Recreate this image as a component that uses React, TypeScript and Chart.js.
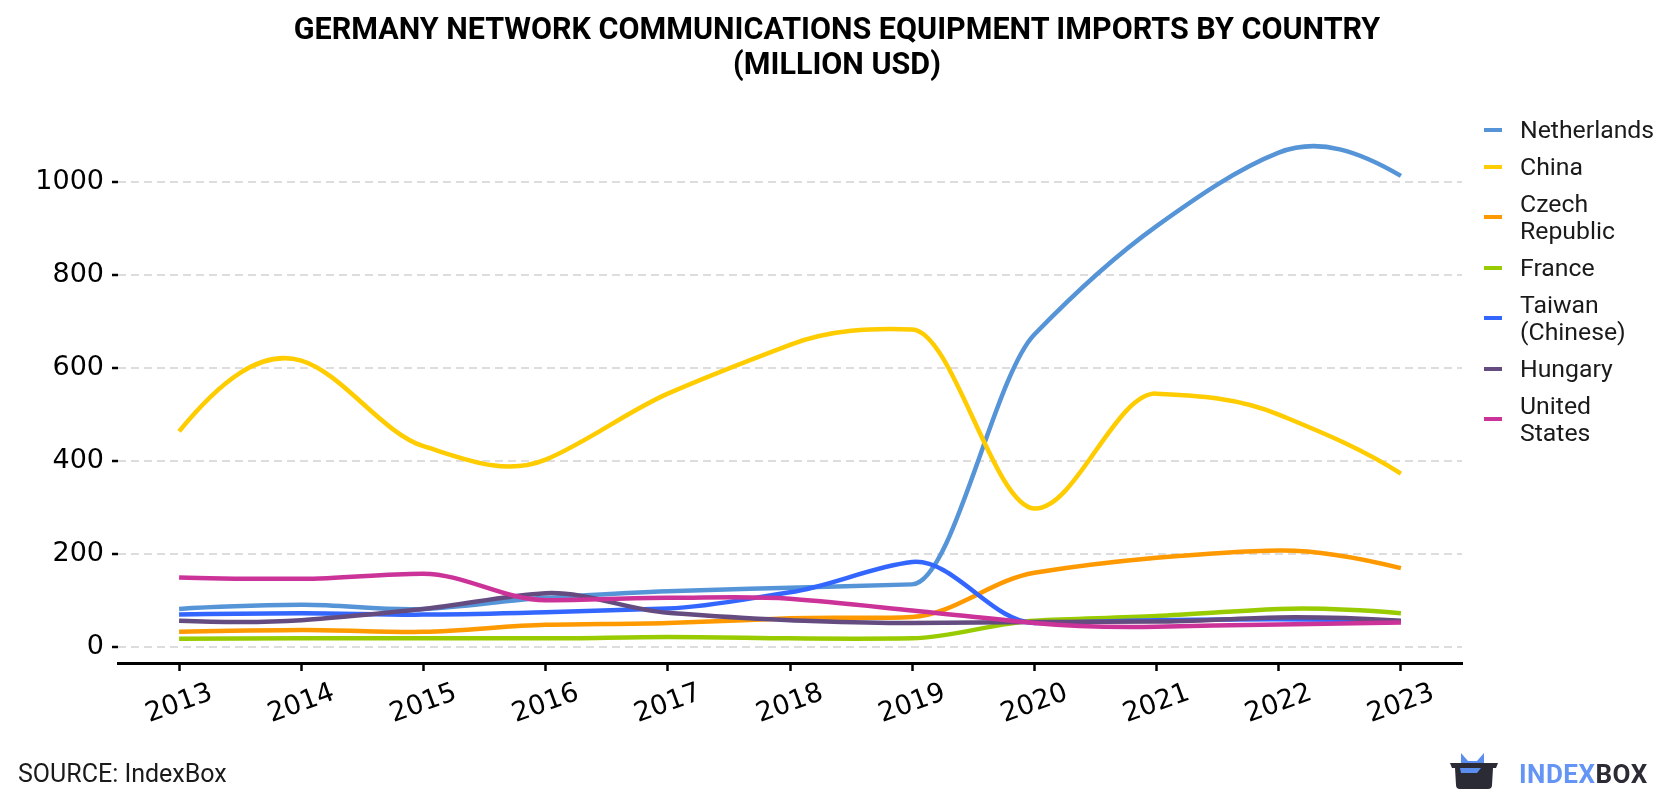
import React, { useEffect, useRef } from 'react';
import { Chart, registerables } from 'chart.js';

Chart.register(...registerables);

const YEARS = [2013, 2014, 2015, 2016, 2017, 2018, 2019, 2020, 2021, 2022, 2023];
const NETHERLANDS = [82, 91, 82, 106, 120, 128, 135, 672, 905, 1063, 1013];
const CHINA = [464, 616, 432, 403, 545, 650, 683, 298, 545, 500, 373];
const CZECH_REPUBLIC = [33, 37, 33, 48, 52, 62, 65, 160, 192, 208, 170];
const FRANCE = [18, 19, 19, 19, 22, 19, 19, 57, 67, 82, 73];
const TAIWAN = [70, 73, 70, 75, 83, 118, 183, 52, 58, 60, 56];
const HUNGARY = [57, 58, 82, 116, 74, 58, 52, 54, 55, 64, 57];
const UNITED_STATES = [150, 147, 158, 101, 106, 104, 79, 52, 44, 49, 53];
const Y_TICKS = [0, 200, 400, 600, 800, 1000];

const SERIES_NAMES = ['Netherlands', 'China', 'Czech Republic', 'France', 'Taiwan (Chinese)', 'Hungary', 'United States'];
const LEGEND_LINES = [['Netherlands'], ['China'], ['Czech', 'Republic'], ['France'], ['Taiwan', '(Chinese)'], ['Hungary'], ['United', 'States']];
const SERIES_VALUES = [NETHERLANDS, CHINA, CZECH_REPUBLIC, FRANCE, TAIWAN, HUNGARY, UNITED_STATES];
const COLORS = ['#5694D8', '#FFCC00', '#FF9900', '#99CC00', '#3366FF', '#654C80', '#CC3399'];

const TITLE_1 = 'GERMANY NETWORK COMMUNICATIONS EQUIPMENT IMPORTS BY COUNTRY';
const TITLE_2 = '(MILLION USD)';

// Akima-style curve: override bezier control points of every line
const akimaPlugin = {
  id: 'akimaCurve',
  beforeDatasetsDraw(chart: any) {
    chart.getSortedVisibleDatasetMetas().forEach((meta: any) => {
      const line = meta.dataset;
      if (!line) return;
      line.updateControlPoints(chart.chartArea, meta.iScale.axis);
      const pts = meta.data;
      const n = pts.length;
      if (n < 3) return;
      const m: number[] = [];
      for (let i = 0; i < n - 1; i++) m.push((pts[i + 1].y - pts[i].y) / (pts[i + 1].x - pts[i].x));
      const mA = 2 * m[0] - m[1];
      const mB = 2 * mA - m[0];
      const mC = 2 * m[n - 2] - m[n - 3];
      const mD = 2 * mC - m[n - 2];
      const M = [mB, mA, ...m, mC, mD];
      const t: number[] = [];
      for (let i = 0; i < n; i++) {
        const a = M[i], b = M[i + 1], c = M[i + 2], d = M[i + 3];
        const w1 = Math.abs(d - c);
        const w2 = Math.abs(b - a);
        t.push(w1 + w2 > 1e-9 ? (w1 * b + w2 * c) / (w1 + w2) : (b + c) / 2);
      }
      for (let i = 0; i < n; i++) {
        const p = pts[i];
        const hPrev = i > 0 ? p.x - pts[i - 1].x : 0;
        const hNext = i < n - 1 ? pts[i + 1].x - p.x : 0;
        p.cp1x = p.x - hPrev / 3;
        p.cp1y = p.y - (t[i] * hPrev) / 3;
        p.cp2x = p.x + hNext / 3;
        p.cp2y = p.y + (t[i] * hNext) / 3;
      }
      line._path = undefined;
    });
  },
};

// Rotated, centred year labels under the x axis
const xLabelPlugin = {
  id: 'xLabels',
  afterDraw(chart: any) {
    const scale = chart.scales.x;
    const ctx = chart.ctx;
    ctx.save();
    ctx.font = '27px "DejaVu Sans"';
    ctx.fillStyle = '#000';
    ctx.textAlign = 'center';
    ctx.textBaseline = 'middle';
    YEARS.forEach((yr) => {
      const x = scale.getPixelForValue(yr);
      ctx.save();
      ctx.translate(x, 704);
      ctx.rotate((-20 * Math.PI) / 180);
      ctx.fillText(String(yr), 0, 0);
      ctx.restore();
    });
    ctx.restore();
  },
};

function LineChart() {
  const ref = useRef<HTMLCanvasElement | null>(null);
  useEffect(() => {
    if (!ref.current) return;
    const chart = new Chart(ref.current, {
      type: 'line',
      data: {
        datasets: SERIES_NAMES.map((name, i) => ({
          label: name,
          data: YEARS.map((yr, j) => ({ x: yr, y: SERIES_VALUES[i][j] })),
          borderColor: COLORS[i],
          backgroundColor: COLORS[i],
          borderWidth: 4.5,
          pointRadius: 0,
          tension: 0.4,
          fill: false,
          order: SERIES_NAMES.length - i,
        })),
      },
      options: {
        responsive: false,
        animation: false,
        devicePixelRatio: 1,
        layout: { padding: { top: 121, right: 218, bottom: 0, left: 0 } },
        plugins: {
          legend: { display: false },
          title: { display: false },
          tooltip: { enabled: false },
        },
        elements: { point: { radius: 0 }, line: { borderCapStyle: 'butt', borderJoinStyle: 'round' } },
        scales: {
          x: {
            type: 'linear',
            min: 2012.5,
            max: 2023.5,
            afterBuildTicks: (s: any) => {
              s.ticks = YEARS.map((v) => ({ value: v }));
            },
            afterFit: (s: any) => {
              s.height = 137;
            },
            ticks: { display: false },
            grid: {
              display: true,
              drawOnChartArea: false,
              drawTicks: true,
              tickLength: 8,
              tickWidth: 2.5,
              tickColor: '#000',
              color: '#000',
            },
            border: { display: true, color: '#000', width: 3 },
          },
          y: {
            type: 'linear',
            min: -34,
            max: 1131,
            afterBuildTicks: (s: any) => {
              s.ticks = Y_TICKS.map((v) => ({ value: v }));
            },
            afterFit: (s: any) => {
              s.width = 118;
            },
            ticks: {
              font: { family: '"DejaVu Sans"', size: 27 },
              color: '#000',
              padding: 8,
              callback: (v: any) => String(v),
            },
            grid: {
              color: '#dddddd',
              lineWidth: 2,
              drawTicks: true,
              tickLength: 6,
              tickWidth: 2.5,
              tickColor: '#000',
              tickBorderDash: [],
            },
            border: { display: false, dash: [8, 5] },
          },
        },
      },
      plugins: [akimaPlugin, xLabelPlugin],
    } as any);
    return () => chart.destroy();
  }, []);
  return <canvas ref={ref} width={1680} height={800} style={{ position: 'absolute', left: 0, top: 0, width: 1680, height: 800 }} />;
}

export default function App() {
  return (
    <div style={{ position: 'absolute', left: 0, top: 0, width: 1680, height: 800, background: '#fff', overflow: 'hidden' }}>
      <LineChart />
      <div
        style={{
          position: 'absolute',
          top: 11,
          left: 0,
          width: 1674,
          textAlign: 'center',
          fontFamily: 'Roboto, sans-serif',
          fontWeight: 700,
          fontSize: 30.5,
          lineHeight: '35px',
          color: '#000',
        }}
      >
        <div>{TITLE_1}</div>
        <div>{TITLE_2}</div>
      </div>
      <div style={{ position: 'absolute', left: 1484, top: 116 }}>
        {LEGEND_LINES.map((lines, i) => (
          <div key={i} style={{ display: 'flex', alignItems: 'center', marginBottom: 10 }}>
            <div style={{ width: 18, height: 4, background: COLORS[i], marginRight: 18, flex: 'none' }} />
            <div style={{ fontFamily: 'Roboto, sans-serif', fontSize: 24.8, lineHeight: '27px', color: '#1a1a1a', whiteSpace: 'nowrap' }}>
              {lines.map((l, k) => (
                <div key={k}>{l}</div>
              ))}
            </div>
          </div>
        ))}
      </div>
      <div
        style={{
          position: 'absolute',
          left: 18,
          top: 759,
          fontFamily: 'Roboto, sans-serif',
          fontSize: 25,
          lineHeight: '30px',
          color: '#1a1a1a',
        }}
      >
        SOURCE: IndexBox
      </div>
      <svg style={{ position: 'absolute', left: 1450, top: 750 }} width={50} height={42} viewBox="0 0 50 42">
        <polygon points="11,3 18,11 27,11 34,3 34,14 11,14" fill="#5B8DEF" />
        <path d="M0,13 L48,13 L46,18 L43,18 L42,35 Q42,39 38,39 L10,39 Q6,39 6,35 L5,18 L2,18 Z" fill="#2B2B36" />
        <polygon points="10,18 31,18 27,23 11,23" fill="#5B8DEF" />
      </svg>
      <div
        style={{
          position: 'absolute',
          left: 1519,
          top: 759,
          fontFamily: 'Roboto, sans-serif',
          fontWeight: 700,
          fontSize: 26,
          lineHeight: '30px',
          letterSpacing: 0.5,
        }}
      >
        <span style={{ color: '#6495F5' }}>INDEX</span>
        <span style={{ color: '#2B2B36' }}>BOX</span>
      </div>
    </div>
  );
}
